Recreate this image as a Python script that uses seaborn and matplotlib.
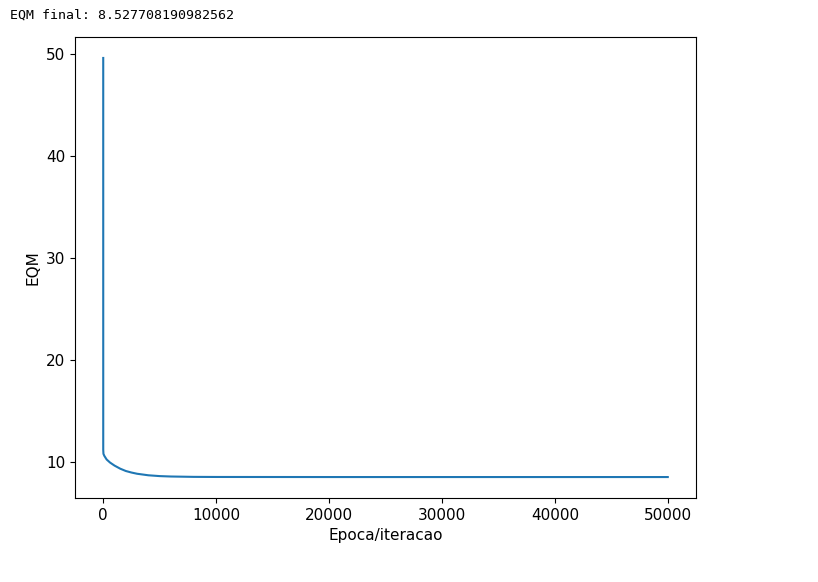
import matplotlib
matplotlib.use("Agg")
import matplotlib.pyplot as plt
import seaborn as sns

epochs = [0, 1, 20, 100, 300, 600, 1000, 1500, 2000, 2500, 3000, 4000, 5000, 6000, 8000, 10000, 20000, 30000, 40000, 50000]
eqm = [49.6, 11.2, 10.8, 10.6, 10.25, 9.95, 9.65, 9.35, 9.12, 8.97, 8.85, 8.7, 8.62, 8.58, 8.545, 8.535, 8.528, 8.528, 8.528, 8.5277]

fig = plt.figure(figsize=(8.18, 5.82), dpi=100)
ax = fig.add_axes([75/818, 1-498/582, (696-75)/818, (498-37)/582])
sns.lineplot(x=epochs, y=eqm, ax=ax, color="#1f77b4", linewidth=1.5)
ax.set_xlabel("Epoca/iteracao", fontsize=11)
ax.set_ylabel("EQM", fontsize=11)
ax.tick_params(labelsize=11)
fig.text(10/818, 1-15/582, "EQM final: 8.527708190982562", family="DejaVu Sans Mono", fontsize=9.5, va="center")
fig.savefig("out.png", dpi=100)
